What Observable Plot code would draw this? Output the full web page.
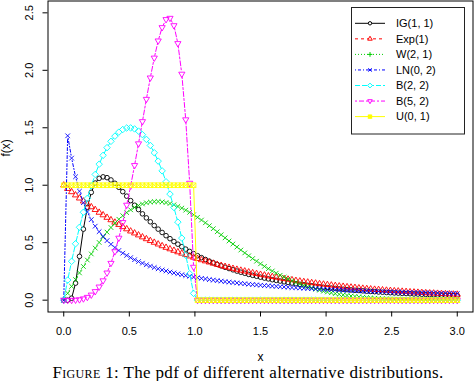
<!DOCTYPE html>
<html><head><meta charset="utf-8">
<script src="https://cdn.jsdelivr.net/npm/d3@7"></script>
<script src="https://cdn.jsdelivr.net/npm/@observablehq/plot@0.6"></script>
<style>
html,body{margin:0;padding:0;background:#fff;}
body{width:474px;height:381px;overflow:hidden;position:relative;}
#chart{position:absolute;left:0;top:0;}
#caption{position:absolute;left:0;width:474px;top:364px;text-align:center;font-family:"Liberation Serif","DejaVu Serif",serif;font-size:17px;letter-spacing:0.35px;line-height:1;white-space:nowrap;color:#000;padding-left:22px;box-sizing:border-box;}
</style></head><body>
<div id="chart"></div>
<div id="caption"><span style="font-variant:small-caps">Figure</span> 1: The pdf of different alternative distributions.</div>
<script>
const xs = [0,0.03,0.06,0.09,0.12,0.15,0.18,0.21,0.24,0.27,0.3,0.33,0.36,0.39,0.42,0.45,0.48,0.51,0.54,0.57,0.6,0.63,0.66,0.69,0.72,0.75,0.78,0.81,0.84,0.87,0.9,0.93,0.96,0.99,1.02,1.05,1.08,1.11,1.14,1.17,1.2,1.23,1.26,1.29,1.32,1.35,1.38,1.41,1.44,1.47,1.5,1.53,1.56,1.59,1.62,1.65,1.68,1.71,1.74,1.77,1.8,1.83,1.86,1.89,1.92,1.95,1.98,2.01,2.04,2.07,2.1,2.13,2.16,2.19,2.22,2.25,2.28,2.31,2.34,2.37,2.4,2.43,2.46,2.49,2.52,2.55,2.58,2.61,2.64,2.67,2.7,2.73,2.76,2.79,2.82,2.85,2.88,2.91,2.94,2.97,3];
const igValues = [0,0,0.017,0.148,0.381,0.618,0.807,0.938,1.019,1.060,1.073,1.066,1.046,1.017,0.982,0.944,0.905,0.866,0.826,0.788,0.751,0.716,0.682,0.649,0.618,0.589,0.561,0.535,0.510,0.487,0.465,0.444,0.424,0.405,0.387,0.370,0.354,0.339,0.325,0.311,0.298,0.286,0.275,0.264,0.253,0.243,0.234,0.224,0.216,0.208,0.200,0.192,0.185,0.178,0.172,0.166,0.160,0.154,0.149,0.143,0.138,0.134,0.129,0.125,0.120,0.116,0.112,0.109,0.105,0.102,0.098,0.095,0.092,0.089,0.086,0.084,0.081,0.078,0.076,0.074,0.071,0.069,0.067,0.065,0.063,0.061,0.059,0.058,0.056,0.054,0.053,0.051,0.050,0.048,0.047,0.045,0.044,0.043,0.042,0.041,0.039];
const expValues = [1,0.970,0.942,0.914,0.887,0.861,0.835,0.811,0.787,0.763,0.741,0.719,0.698,0.677,0.657,0.638,0.619,0.600,0.583,0.566,0.549,0.533,0.517,0.502,0.487,0.472,0.458,0.445,0.432,0.419,0.407,0.395,0.383,0.372,0.361,0.350,0.340,0.330,0.320,0.310,0.301,0.292,0.284,0.275,0.267,0.259,0.252,0.244,0.237,0.230,0.223,0.217,0.210,0.204,0.198,0.192,0.186,0.181,0.176,0.170,0.165,0.160,0.156,0.151,0.147,0.142,0.138,0.134,0.130,0.126,0.122,0.119,0.115,0.112,0.109,0.105,0.102,0.099,0.096,0.093,0.091,0.088,0.085,0.083,0.080,0.078,0.076,0.074,0.071,0.069,0.067,0.065,0.063,0.061,0.060,0.058,0.056,0.054,0.053,0.051,0.050];
const weibullValues = [0,0.060,0.120,0.179,0.237,0.293,0.349,0.402,0.453,0.502,0.548,0.592,0.632,0.670,0.704,0.735,0.762,0.786,0.807,0.824,0.837,0.847,0.854,0.857,0.858,0.855,0.849,0.841,0.830,0.816,0.801,0.783,0.764,0.743,0.721,0.697,0.673,0.648,0.622,0.595,0.569,0.542,0.515,0.489,0.462,0.436,0.411,0.386,0.362,0.339,0.316,0.294,0.274,0.254,0.235,0.217,0.200,0.184,0.169,0.154,0.141,0.128,0.117,0.106,0.096,0.087,0.078,0.071,0.064,0.057,0.051,0.046,0.041,0.036,0.032,0.028,0.025,0.022,0.020,0.017,0.015,0.013,0.012,0.010,0.009,0.008,0.007,0.006,0.005,0.004,0.004,0.003,0.003,0.002,0.002,0.002,0.001,0.001,0.001,0.001,0.001];
const lognormValues = [0,1.430,1.236,1.074,0.948,0.848,0.767,0.701,0.644,0.596,0.555,0.518,0.486,0.458,0.432,0.409,0.389,0.370,0.352,0.336,0.322,0.308,0.296,0.284,0.273,0.263,0.254,0.245,0.237,0.229,0.221,0.214,0.208,0.201,0.196,0.190,0.185,0.179,0.175,0.170,0.166,0.161,0.157,0.153,0.150,0.146,0.143,0.139,0.136,0.133,0.130,0.127,0.125,0.122,0.120,0.117,0.115,0.113,0.110,0.108,0.106,0.104,0.102,0.100,0.099,0.097,0.095,0.093,0.092,0.090,0.089,0.087,0.086,0.084,0.083,0.082,0.080,0.079,0.078,0.077,0.076,0.074,0.073,0.072,0.071,0.070,0.069,0.068,0.067,0.066,0.065,0.064,0.064,0.063,0.062,0.061,0.060,0.059,0.059,0.058,0.057];
const beta22Values = [0,0.175,0.338,0.491,0.634,0.765,0.886,0.995,1.094,1.183,1.260,1.327,1.382,1.427,1.462,1.485,1.498,1.499,1.490,1.471,1.440,1.399,1.346,1.283,1.210,1.125,1.030,0.923,0.806,0.679,0.540,0.391,0.230,0.059,
0,0,0,0,0,0,0,0,0,0,0,0,0,0,0,0,0,0,0,0,0,0,0,0,0,0,0,0,0,0,0,0,0,0,0,0,0,0,0,0,0,0,0,0,0,0,0,0,0,0,0,0,0,0,0,0,0,0,0,0,0,0,0,0,0,0,0];
const beta52Values = [0,0,0,0.002,0.005,0.013,0.026,0.046,0.076,0.116,0.170,0.238,0.322,0.423,0.541,0.677,0.828,0.994,1.173,1.362,1.555,1.749,1.935,2.108,2.257,2.373,2.443,2.454,2.390,2.234,1.968,1.571,1.019,0.288,
0,0,0,0,0,0,0,0,0,0,0,0,0,0,0,0,0,0,0,0,0,0,0,0,0,0,0,0,0,0,0,0,0,0,0,0,0,0,0,0,0,0,0,0,0,0,0,0,0,0,0,0,0,0,0,0,0,0,0,0,0,0,0,0,0,0,0];
const unifValues = [1,1,1,1,1,1,1,1,1,1,1,1,1,1,1,1,1,1,1,1,1,1,1,1,1,1,1,1,1,1,1,1,1,1,
0,0,0,0,0,0,0,0,0,0,0,0,0,0,0,0,0,0,0,0,0,0,0,0,0,0,0,0,0,0,0,0,0,0,0,0,0,0,0,0,0,0,0,0,0,0,0,0,0,0,0,0,0,0,0,0,0,0,0,0,0,0,0,0,0,0,0];

const seriesNames = ["IG(1, 1)","Exp(1)","W(2, 1)","LN(0, 2)","B(2, 2)","B(5, 2)","U(0, 1)"];
const seriesColors = ["#000000","#FF0000","#00CD00","#0000FF","#00FFFF","#FF00FF","#FFFF00"];
const xTicks = [0,0.5,1,1.5,2,2.5,3];
const xTickLabels = ["0.0","0.5","1.0","1.5","2.0","2.5","3.0"];
const yTicks = [0,0.5,1,1.5,2,2.5];
const yTickLabels = ["0.0","0.5","1.0","1.5","2.0","2.5"];
const xLabel = "x";
const yLabel = "f(x)";

// R-like plotting symbols (pch 1..7)
const mk = f => ({draw(ctx, size){ f(ctx, Math.sqrt(size/Math.PI)); }});
const symCircle = mk((c,r)=>{c.moveTo(r,0); c.arc(0,0,r,0,2*Math.PI);});
const symTriUp = mk((c,r)=>{c.moveTo(0,-1.555*r); c.lineTo(1.347*r,0.778*r); c.lineTo(-1.347*r,0.778*r); c.closePath();});
const symPlus = mk((c,r)=>{const a=1.414*r; c.moveTo(-a,0); c.lineTo(a,0); c.moveTo(0,-a); c.lineTo(0,a);});
const symTimes = mk((c,r)=>{c.moveTo(-r,-r); c.lineTo(r,r); c.moveTo(-r,r); c.lineTo(r,-r);});
const symDiamond = mk((c,r)=>{const a=1.414*r; c.moveTo(0,-a); c.lineTo(a,0); c.lineTo(0,a); c.lineTo(-a,0); c.closePath();});
const symTriDown = mk((c,r)=>{c.moveTo(0,1.555*r); c.lineTo(1.347*r,-0.778*r); c.lineTo(-1.347*r,-0.778*r); c.closePath();});
const symBoxX = mk((c,r)=>{c.moveTo(-r,-r); c.lineTo(r,-r); c.lineTo(r,r); c.lineTo(-r,r); c.closePath(); c.moveTo(-r,-r); c.lineTo(r,r); c.moveTo(-r,r); c.lineTo(r,-r);});

const series = [
  {name: seriesNames[0], values: igValues, color: seriesColors[0], dash: null, symbol: symCircle, legendSymbol: symCircle},
  {name: seriesNames[1], values: expValues, color: seriesColors[1], dash: "3,3", symbol: symTriUp, legendSymbol: symTriUp},
  {name: seriesNames[2], values: weibullValues, color: seriesColors[2], dash: "1,2", symbol: symTimes, legendSymbol: symPlus},
  {name: seriesNames[3], values: lognormValues, color: seriesColors[3], dash: "1,2,3,2", symbol: symTimes, legendSymbol: symTimes},
  {name: seriesNames[4], values: beta22Values, color: seriesColors[4], dash: "5,2", symbol: symDiamond, legendSymbol: symDiamond},
  {name: seriesNames[5], values: beta52Values, color: seriesColors[5], dash: "2,2,5,2", symbol: symTriDown, legendSymbol: symTriDown},
  {name: seriesNames[6], values: unifValues, color: seriesColors[6], dash: null, symbol: symBoxX, legendSymbol: symBoxX}
];

const xDomain = [-0.12, 3.12], yDomain = [-0.103, 2.603];
const W = 474, H = 381, mL = 47.5, mR = 1.5, mT = 0.5, mB = 69.5;
// standalone copies of the chart's scales, used to decide which connecting segments are long enough (R type = "b")
const sx = Plot.scale({x: {domain: xDomain, range: [mL, W - mR]}});
const sy = Plot.scale({y: {domain: yDomain, range: [H - mB, mT]}});
const GAP = 2.6;

const marks = [];
series.forEach(s => {
  const data = xs.map((x, i) => ({x, y: s.values[i]}));
  const segs = [];
  for (let i = 1; i < data.length; i++) {
    const a = data[i - 1], b = data[i];
    const len = Math.hypot(sx.apply(b.x) - sx.apply(a.x), sy.apply(b.y) - sy.apply(a.y));
    if (len > 2 * GAP + 0.3) segs.push({x1: a.x, y1: a.y, x2: b.x, y2: b.y});
  }
  marks.push(Plot.arrow(segs, {x1: "x1", y1: "y1", x2: "x2", y2: "y2", stroke: s.color, strokeWidth: 1,
    strokeDasharray: s.dash, headLength: 0, insetStart: GAP, insetEnd: GAP}));
  marks.push(Plot.dot(data, {x: "x", y: "y", symbol: s.symbol, r: 2.3, stroke: s.color, fill: "none", strokeWidth: 0.9}));
});

const chart = Plot.plot({
  width: W,
  height: H,
  marginLeft: mL,
  marginRight: mR,
  marginTop: mT,
  marginBottom: mB,
  style: {fontFamily: "'Liberation Sans', Arial, sans-serif", fontSize: "11px", background: "white", color: "black"},
  x: {domain: xDomain},
  y: {domain: yDomain},
  marks: [
    ...marks,
    Plot.frame({stroke: "black", strokeWidth: 1}),
    Plot.axisX(xTicks, {tickSize: 5, tickPadding: 10, tickFormat: d => xTickLabels[xTicks.indexOf(d)], fontSize: 11, label: null}),
    Plot.axisY(yTicks, {tickSize: 5, tickPadding: 10, tickRotate: -90, tickFormat: d => yTickLabels[yTicks.indexOf(d)], fontSize: 11, label: null}),
    Plot.text([xLabel], {text: d => d, frameAnchor: "bottom", dy: 45, fontSize: 12, lineAnchor: "middle"}),
    Plot.text([yLabel], {text: d => d, frameAnchor: "left", dx: -41.5, rotate: -90, fontSize: 12, lineAnchor: "middle"})
  ]
});
document.getElementById("chart").appendChild(chart);

// legend
const svg = d3.select(chart);
const lg = svg.append("g").attr("class", "legend").attr("text-anchor", "start");
lg.append("rect").attr("x", 351.5).attr("y", 7.5).attr("width", 113).attr("height", 126.5)
  .attr("fill", "white").attr("stroke", "#222").attr("stroke-width", 1);
series.forEach((s, i) => {
  const y = 23.3 + i * 15.55;
  lg.append("line").attr("x1", 355).attr("x2", 385).attr("y1", y).attr("y2", y)
    .attr("stroke", s.color).attr("stroke-width", 1).attr("stroke-dasharray", s.dash);
  lg.append("path").attr("transform", `translate(370,${y})`)
    .attr("d", d3.symbol(s.legendSymbol, Math.PI * 1.7 * 1.7)())
    .attr("fill", i === 6 ? s.color : "white").attr("stroke", s.color).attr("stroke-width", 1);
  lg.append("text").attr("x", 396).attr("y", y).attr("dy", "0.35em").attr("text-anchor", "start")
    .attr("font-size", 11).attr("fill", "black").text(s.name);
});
</script>
</body></html>
